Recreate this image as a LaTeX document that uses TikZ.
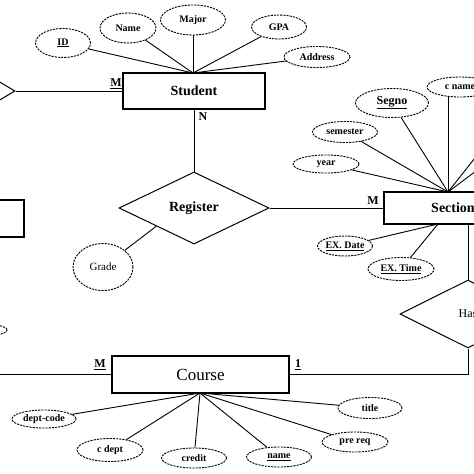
\documentclass[tikz,border=0pt]{standalone}
\usepackage{fontspec}
\setmainfont{Liberation Serif}
\usetikzlibrary{shapes.geometric}
\tikzset{
  ent/.style={draw, line width=1.2pt, inner sep=0pt, font=\bfseries\fontsize{14}{16}\selectfont},
  attr/.style={ellipse, draw, line width=0.9pt, dash pattern=on 2.2pt off 1pt, inner sep=0pt, font=\bfseries\fontsize{10}{12}\selectfont},
  rel/.style={diamond, draw, line width=1pt, inner sep=0pt, aspect=2, font=\bfseries\fontsize{14}{16}\selectfont},
  card/.style={inner sep=0pt, font=\bfseries\fontsize{12}{14}\selectfont},
  conn/.style={line width=0.9pt}
}
\begin{document}
\begin{tikzpicture}[x=1pt,y=-1pt]
\useasboundingbox (0,0) rectangle (474,474);
\fill[white] (0,0) rectangle (474,474);
\clip (0,0) rectangle (474,474);

% ---------- Student ----------
\node[ent, minimum width=142pt, minimum height=36pt] (student) at (194,91) {Student};
\coordinate (sa) at (193,73);
\node[attr, minimum width=55pt, minimum height=29pt] (id) at (63,43) {\underline{ID}};
\node[attr, minimum width=56pt, minimum height=30pt] (name) at (128,28) {Name};
\node[attr, minimum width=65pt, minimum height=30pt] (major) at (193,20) {Major};
\node[attr, minimum width=55pt, minimum height=24pt] (gpa) at (279,27) {GPA};
\node[attr, minimum width=66pt, minimum height=21pt] (address) at (317,57) {Address};
\foreach \a in {id,name,major,gpa,address} \draw[conn] (\a) -- (sa);

% left partial diamond
\node[rel, minimum width=120pt, minimum height=72pt] (ldia) at (-45,91) {};
\draw[conn] (ldia.east) -- (student.west);
\node[card] (m1) at (116,84) {\underline{M}};
\node[card] (n1) at (203,117) {N};

% ---------- Register ----------
\node[rel, minimum width=150pt, minimum height=72pt] (register) at (194,208) {Register};
\draw[conn] (student.south) -- (register.north);
\node[attr, minimum width=60pt, minimum height=47pt, font=\fontsize{11}{13}\selectfont] (grade) at (103,267) {Grade};
\draw[conn] (grade) -- (register.south west);

% left partial rectangle
\node[ent, minimum width=128pt, minimum height=37pt] (lrect) at (-40,218.5) {};

% ---------- Section ----------
\node[ent, minimum width=138pt, minimum height=32pt] (section) at (453,208) {Section};
\draw[conn] (register.east) -- (section.west);
\node[card] (m2) at (373,201) {M};
\coordinate (sc) at (448,192);
\node[attr, minimum width=73pt, minimum height=29pt, font=\bfseries\fontsize{12}{14}\selectfont] (segno) at (392,103) {\underline{Segno}};
\node[attr, minimum width=66pt, minimum height=20pt] (cname) at (460,87) {c name};
\node[attr, minimum width=65pt, minimum height=21pt] (semester) at (345,132) {semester};
\node[attr, minimum width=66pt, minimum height=18pt] (year) at (326,164) {year};
\foreach \a in {segno,semester,year} \draw[conn] (\a) -- (sc);
\draw[conn] (cname.south -| sc) -- (sc);
\coordinate (r1) at (490,139);
\coordinate (r2) at (500,153);
\draw[conn] (sc) -- (r1);
\draw[conn] (sc) -- (r2);
\coordinate (sb) at (438,224);
\node[attr, minimum width=55pt, minimum height=20pt] (exdate) at (345,246) {\underline{EX. Date}};
\node[attr, minimum width=66pt, minimum height=23pt] (extime) at (401,269) {\underline{EX. Time}};
\draw[conn] (exdate) -- (sb);
\draw[conn] (extime) -- (sb);

% ---------- Has ----------
\node[rel, minimum width=136pt, minimum height=68pt, font=\fontsize{12}{14}\selectfont] (has) at (468,314) {Has};
\draw[conn] (section.south -| has.north) -- (has.north);

% ---------- Course ----------
\node[ent, minimum width=177pt, minimum height=37pt, font=\fontsize{17}{19}\selectfont] (course) at (200.5,374.5) {Course};
\draw[conn] (has.south) |- (course.east);
\node[card] (one) at (298,365) {\underline{1}};
\node[card] (m3) at (100,365) {\underline{M}};
\coordinate (cl) at (-5,374.5);
\draw[conn] (course.west) -- (cl);
\node[attr, minimum width=66pt, minimum height=14pt] (lpart) at (-26,330) {};

\coordinate (cc) at (200,393);
\node[attr, minimum width=64pt, minimum height=18pt] (deptcode) at (44,419) {dept-code};
\node[attr, minimum width=66pt, minimum height=23pt] (cdept) at (110,450) {c dept};
\node[attr, minimum width=65pt, minimum height=20pt] (credit) at (194,458) {credit};
\node[attr, minimum width=65pt, minimum height=20pt] (cnm) at (279,457) {\underline{name}};
\node[attr, minimum width=66pt, minimum height=20pt] (prereq) at (355,442) {pre req};
\node[attr, minimum width=64pt, minimum height=21pt] (title) at (370,408) {title};
\foreach \a in {deptcode,cdept,credit,cnm,prereq,title} \draw[conn] (\a) -- (cc);
\end{tikzpicture}
\end{document}
